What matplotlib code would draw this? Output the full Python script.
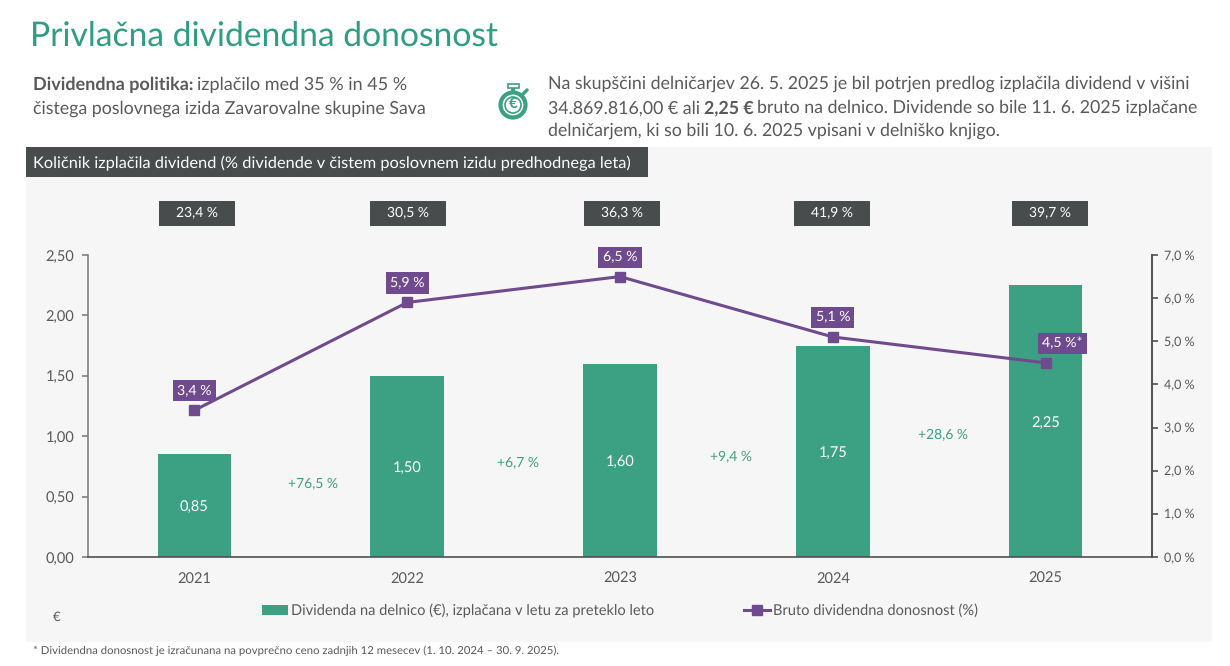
import matplotlib
matplotlib.use("Agg")
import matplotlib.pyplot as plt
from matplotlib.patches import Rectangle, Circle
from matplotlib.ticker import FixedLocator

plt.rcParams['font.family'] = ['Lato', 'DejaVu Sans']
plt.rcParams['text.hinting'] = 'no_hinting'

## Data
years = ['2021', '2022', '2023', '2024', '2025']
dividend = [0.85, 1.50, 1.60, 1.75, 2.25]
dividend_yield = [3.4, 5.9, 6.5, 5.1, 4.5]
yield_suffix = ['', '', '', '', '*']
payout_ratio = [23.4, 30.5, 36.3, 41.9, 39.7]
growth_labels = ['+76,5 %', '+6,7 %', '+9,4 %', '+28,6 %']
left_ticks = [0.0, 0.5, 1.0, 1.5, 2.0, 2.5]
right_ticks = [0, 1, 2, 3, 4, 5, 6, 7]

GREEN = '#3CA082'
TITLE_GREEN = '#2F9C84'
PURPLE = '#6F4A8E'
DARK = '#484C4C'
PANEL = '#F6F6F6'
TEXT = '#595959'

W, H = 1230, 666


def comma(v, digits):
    return f"{v:.{digits}f}".replace('.', ',')


fig = plt.figure(figsize=(W / 100, H / 100), dpi=100, facecolor='white')

## Page layer in pixel coordinates: panel, header, text blocks
page = fig.add_axes([0, 0, 1, 1], zorder=0)
page.set_xlim(0, W)
page.set_ylim(H, 0)
page.axis('off')

page.add_patch(Rectangle((26, 147), 1186, 495, fc=PANEL, ec='none'))
page.add_patch(Rectangle((26, 147), 622, 30, fc=DARK, ec='none'))

page.text(30, 36, 'Privlačna dividendna donosnost', color=TITLE_GREEN, fontsize=24.2,
          va='center')
page.text(33, 163.5, 'Količnik izplačila dividend (% dividende v čistem poslovnem izidu predhodnega leta)',
          color='white', fontsize=11.78, va='center')


def runs(x, y, parts, size):
    # text with bold stretches, placed piece by piece
    renderer = fig.canvas.get_renderer()
    for s, weight in parts:
        t = page.text(x, y, s, color=TEXT, fontsize=size, fontweight=weight, va='center')
        x += t.get_window_extent(renderer).width + size * 0.3


runs(33, 85, [('Dividendna politika:', 'bold'), ('izplačilo med 35 % in 45 %', 'normal')], 12.95)
runs(33, 109, [('čistega poslovnega izida Zavarovalne skupine Sava', 'normal')], 12.8)
runs(548, 84, [('Na skupščini delničarjev 26. 5. 2025 je bil potrjen predlog izplačila dividend v višini', 'normal')], 12.8)
runs(548, 108, [('34.869.816,00 € ali', 'normal'), ('2,25 €', 'bold'),
                ('bruto na delnico. Dividende so bile 11. 6. 2025 izplačane', 'normal')], 12.8)
runs(548, 131, [('delničarjem, ki so bili 10. 6. 2025 vpisani v delniško knjigo.', 'normal')], 12.8)

## Stopwatch icon
page.add_patch(Circle((513, 105), 12.5, fc='white', ec=GREEN, lw=3))
page.add_patch(Circle((513, 105), 8, fc='white', ec=GREEN, lw=1.2))
page.add_patch(Rectangle((511, 88), 4, 5, fc=GREEN, ec='none'))
page.add_patch(Rectangle((507.5, 84), 11, 4, fc='none', ec=GREEN, lw=1.2))
page.plot([523, 527], [94, 90], color=GREEN, lw=2.5, solid_capstyle='round')
page.text(513, 105, '€', color=GREEN, fontsize=11, fontweight='bold', ha='center', va='center')

## Payout ratio boxes above the chart
box_x = [197, 408, 622, 832, 1050]
for x, v in zip(box_x, payout_ratio):
    page.add_patch(Rectangle((x - 38, 201), 76, 25, fc=DARK, ec='none'))
    page.text(x, 213, comma(v, 1) + ' %', color='white', fontsize=10, ha='center', va='center')

page.text(57, 617, '€', color=TEXT, fontsize=9.5, ha='center', va='center')
page.text(33, 651, '* Dividendna donosnost je izračunana na povprečno ceno zadnjih 12 mesecev (1. 10. 2024 – 30. 9. 2025).',
          color=TEXT, fontsize=8.2, va='center')

## Chart
ax = fig.add_axes([88 / W, (H - 557) / H, (1152 - 88) / W, (557 - 255) / H], zorder=1)
ax.patch.set_visible(False)
positions = list(range(len(years)))
bars = ax.bar(positions, dividend, width=0.345, color=GREEN,
              label='Dividenda na delnico (€), izplačana v letu za preteklo leto')
ax.set_xlim(-0.5, 4.5)
ax.set_ylim(0, 2.5)
ax.set_xticks(positions)
ax.set_xticklabels(years)
ax.yaxis.set_major_locator(FixedLocator(left_ticks))
ax.set_yticklabels([comma(v, 2) for v in left_ticks])
ax.tick_params(axis='x', length=0, pad=11, labelsize=10.5, labelcolor=TEXT)
ax.tick_params(axis='y', length=4, width=1.2, color='#808080', pad=6, labelsize=10.5, labelcolor=TEXT)
ax.spines['top'].set_visible(False)
ax.spines['right'].set_visible(False)
ax.spines['left'].set_color('#808080')
ax.spines['left'].set_linewidth(1.2)
ax.spines['bottom'].set_color('#505050')
ax.spines['bottom'].set_linewidth(1.2)

for x, v in zip(positions, dividend):
    ax.annotate(comma(v, 2), (x, v / 2), xytext=(0, -1), textcoords='offset points',
                color='white', fontsize=10.5, ha='center', va='center')

growth_x = [0.557, 1.52, 2.52, 3.52]
growth_y = [0.60, 0.778, 0.828, 1.01]
for x, y, s in zip(growth_x, growth_y, growth_labels):
    ax.text(x, y, s, color=GREEN, fontsize=10, ha='center', va='center')

ax2 = ax.twinx()
ax2.patch.set_visible(False)
ax2.set_ylim(0, 7)
ax2.yaxis.set_major_locator(FixedLocator(right_ticks))
ax2.set_yticklabels([comma(v, 1) + ' %' for v in right_ticks])
ax2.tick_params(axis='y', length=4, width=1.2, color='#505050', pad=5, labelsize=9, labelcolor=TEXT)
for name in ['top', 'left', 'bottom']:
    ax2.spines[name].set_visible(False)
ax2.spines['right'].set_color('#505050')
ax2.spines['right'].set_linewidth(1.4)

line, = ax2.plot(positions, dividend_yield, color=PURPLE, lw=2.2, marker='s', markersize=7,
                 label='Bruto dividendna donosnost (%)')

label_dx = [0, 0, 0, 0, 12]
for x, v, suffix, dx in zip(positions, dividend_yield, yield_suffix, label_dx):
    ax2.annotate(comma(v, 1) + ' %' + suffix, (x, v), xytext=(dx, 14), textcoords='offset points',
                 color='white', fontsize=10.2, ha='center', va='center',
                 bbox=dict(boxstyle='square,pad=0.3', fc=PURPLE, ec='none'))

ax.legend(handles=[bars, line], ncol=2, frameon=False, loc='center', bbox_to_anchor=(0.5, -0.178),
          fontsize=10.5, labelcolor=TEXT, handlelength=1.8, handletextpad=0.25, columnspacing=6.1)

plt.savefig('out.png', dpi=100)
